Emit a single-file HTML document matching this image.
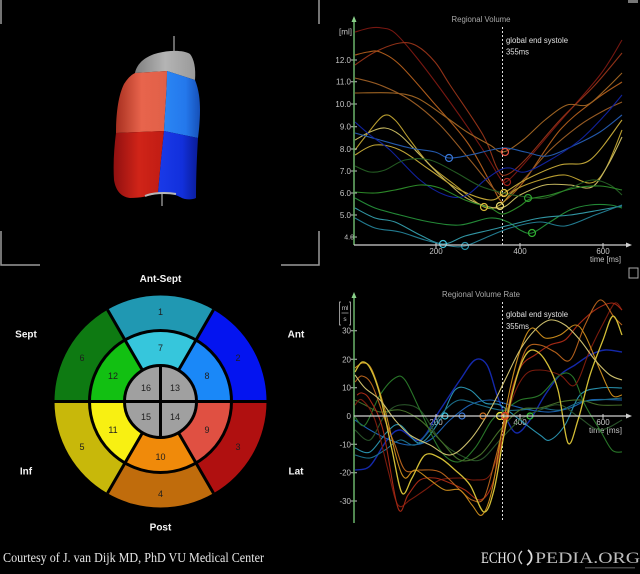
<!DOCTYPE html>
<html><head><meta charset="utf-8">
<style>
html,body{margin:0;padding:0;background:#000;width:640px;height:574px;overflow:hidden}
svg{display:block}
.t{font-family:"Liberation Sans",sans-serif;fill:#c4c4c4;font-size:8px}
.b{font-family:"Liberation Sans",sans-serif;fill:#f4f4f4;font-size:10px;font-weight:bold}
.n{font-family:"Liberation Sans",sans-serif;fill:#1e1e1e;font-size:9px}
.c{fill:none;stroke-width:1.1;stroke-linejoin:round;opacity:0.85}
</style></head>
<body>
<svg width="640" height="574" viewBox="0 0 640 574" xmlns="http://www.w3.org/2000/svg">
<defs>
<linearGradient id="gcap" x1="0" x2="1" y1="0" y2="0"><stop offset="0" stop-color="#808080"/><stop offset="0.5" stop-color="#b4b4b4"/><stop offset="1" stop-color="#9a9a9a"/></linearGradient>
<linearGradient id="gru" x1="0" x2="1"><stop offset="0" stop-color="#a83020"/><stop offset="0.5" stop-color="#e8644c"/><stop offset="1" stop-color="#e06048"/></linearGradient>
<linearGradient id="gbu" x1="0" x2="1"><stop offset="0" stop-color="#2a86f4"/><stop offset="0.6" stop-color="#2478ec"/><stop offset="1" stop-color="#1650b8"/></linearGradient>
<linearGradient id="grl" x1="0" x2="1"><stop offset="0" stop-color="#901010"/><stop offset="0.5" stop-color="#d02418"/><stop offset="1" stop-color="#c01c14"/></linearGradient>
<linearGradient id="gbl" x1="0" x2="1"><stop offset="0" stop-color="#1a3ae8"/><stop offset="0.6" stop-color="#1230dc"/><stop offset="1" stop-color="#0a1c98"/></linearGradient>
</defs>
<rect width="640" height="574" fill="#000"/>

<!-- corner brackets -->
<path d="M1,0V24 M1,231V265H40 M281,265H319V231 M319,24V0" stroke="#9a9a9a" stroke-width="1.5" fill="none"/>
<rect x="628" y="0" width="10" height="3" fill="#777"/>
<rect x="629" y="268" width="9" height="10" fill="none" stroke="#aaa" stroke-width="1"/>

<!-- 3D heart -->
<line x1="174" y1="36" x2="174" y2="53" stroke="#d0d0d0" stroke-width="1"/>
<path d="M135,73 C137,63 146,56 158,53 C170,50 184,50 190,54 C194,59 196,68 195,80 L167,71 Z" fill="url(#gcap)"/>
<path d="M135,73 L167,71 C167,90 165,110 164,131 L116,133 C116,115 118,96 124,84 C128,78 131,75 135,73 Z" fill="url(#gru)"/>
<path d="M167,71 L195,80 C199,90 200,100 200,110 C200,120 199,130 198,138 L164,131 C165,110 167,90 167,71 Z" fill="url(#gbu)"/>
<path d="M116,133 L164,131 C162,150 160,170 158,193 C150,196 140,198 130,198 C122,197 116,192 114,180 C113,165 114,148 116,133 Z" fill="url(#grl)"/>
<path d="M164,131 L198,138 C197,155 196,175 196,198 C192,200 185,200 180,197 C172,193 165,193 158,193 C160,170 162,150 164,131 Z" fill="url(#gbl)"/>
<path d="M145,196 C152,193 165,192 176,194" stroke="#b8b8b8" stroke-width="2" fill="none"/>
<line x1="162" y1="194" x2="162" y2="206" stroke="#d0d0d0" stroke-width="1"/>

<!-- Bullseye -->
<g>
<path d="M160.5,401.5 L107.5,309.7 A106,106 0 0 1 213.5,309.7 Z" fill="#2098b2"/>
<path d="M160.5,401.5 L213.5,309.7 A106,106 0 0 1 266.5,401.5 Z" fill="#0414f0"/>
<path d="M160.5,401.5 L266.5,401.5 A106,106 0 0 1 213.5,493.3 Z" fill="#b01010"/>
<path d="M160.5,401.5 L213.5,493.3 A106,106 0 0 1 107.5,493.3 Z" fill="#c06c0c"/>
<path d="M160.5,401.5 L107.5,493.3 A106,106 0 0 1 54.5,401.5 Z" fill="#c8b80a"/>
<path d="M160.5,401.5 L54.5,401.5 A106,106 0 0 1 107.5,309.7 Z" fill="#0e7a12"/>
<path d="M160.5,401.5 L125,340 A71,71 0 0 1 196,340 Z" fill="#36c6dc"/>
<path d="M160.5,401.5 L196,340 A71,71 0 0 1 231.5,401.5 Z" fill="#1a88f8"/>
<path d="M160.5,401.5 L231.5,401.5 A71,71 0 0 1 196,463 Z" fill="#e05042"/>
<path d="M160.5,401.5 L196,463 A71,71 0 0 1 125,463 Z" fill="#f08a0a"/>
<path d="M160.5,401.5 L125,463 A71,71 0 0 1 89.5,401.5 Z" fill="#f8f012"/>
<path d="M160.5,401.5 L89.5,401.5 A71,71 0 0 1 125,340 Z" fill="#12c012"/>
<circle cx="160.5" cy="401.5" r="36" fill="#a0a0a0"/>
<g stroke="#000" stroke-width="3" fill="none">
<circle cx="160.5" cy="401.5" r="71"/>
<circle cx="160.5" cy="401.5" r="36"/>
<path d="M142.5,370.3 L107.5,309.7 M178.5,370.3 L213.5,309.7 M196.5,401.5 L266.5,401.5 M178.5,432.7 L213.5,493.3 M142.5,432.7 L107.5,493.3 M124.5,401.5 L54.5,401.5 M160.5,365.5 L160.5,437.5 M124.5,401.5 L196.5,401.5"/>
</g>
<g class="n" text-anchor="middle">
<text x="160.5" y="315">1</text>
<text x="238" y="361">2</text>
<text x="238" y="450">3</text>
<text x="160.5" y="497">4</text>
<text x="82" y="450">5</text>
<text x="82" y="361">6</text>
<text x="160.5" y="351">7</text>
<text x="207" y="379">8</text>
<text x="207" y="433">9</text>
<text x="160.5" y="460">10</text>
<text x="113" y="433">11</text>
<text x="113" y="379">12</text>
<text x="175" y="391">13</text>
<text x="175" y="420">14</text>
<text x="146" y="420">15</text>
<text x="146" y="391">16</text>
</g>
<g class="b" text-anchor="middle">
<text x="160.5" y="282">Ant-Sept</text>
<text x="26" y="337.5">Sept</text>
<text x="296" y="337.5">Ant</text>
<text x="26" y="474.5">Inf</text>
<text x="296" y="474.5">Lat</text>
<text x="160.5" y="530.5">Post</text>
</g>
</g>

<!-- Top chart: Regional Volume -->
<g>
<text class="t" x="481" y="22" text-anchor="middle" textLength="59" lengthAdjust="spacingAndGlyphs" style="fill:#a8a8a8">Regional Volume</text>
<line x1="502.5" y1="27" x2="502.5" y2="245" stroke="#e0e0e0" stroke-width="1" stroke-dasharray="2,2"/>
<text class="t" x="506" y="43" textLength="62" lengthAdjust="spacingAndGlyphs" style="fill:#e0e0e0">global end systole</text>
<text class="t" x="506" y="54.5" textLength="23" lengthAdjust="spacingAndGlyphs" style="fill:#e0e0e0">355ms</text>
<text class="t" x="339" y="34.5" textLength="13" lengthAdjust="spacingAndGlyphs">[ml]</text>
<g class="t" text-anchor="end">
<text x="351" y="63">12.0</text>
<text x="351" y="84.7">11.0</text>
<text x="351" y="107">10.0</text>
<text x="351" y="129.7">9.0</text>
<text x="351" y="152">8.0</text>
<text x="351" y="174">7.0</text>
<text x="351" y="196">6.0</text>
<text x="351" y="218">5.0</text>
<text x="354" y="239.5" style="font-size:7px">4.0</text>
</g>
<g class="t" text-anchor="middle">
<text x="436" y="254">200</text>
<text x="520" y="254">400</text>
<text x="603" y="254">600</text>
</g>
<text class="t" x="590" y="262" textLength="31" lengthAdjust="spacingAndGlyphs">time [ms]</text>

<g class="c">
<polyline stroke="#8c1c14" points="355,32 370,28 382,28 395,33 417,58 450,102 483,150 500,178 506,182 523,165 557,125 600,75 622,40"/>
<polyline stroke="#a83a1c" points="355,65 375,52 400,43 417,46 435,62 450,85 483,135 497,168 506,175 525,160 560,120 595,85 622,53"/>
<polyline stroke="#c86a20" points="355,55 368,52 380,52 400,65 433,102 467,142 490,182 500,200 506,200 525,180 560,130 595,100 622,82"/>
<polyline stroke="#b87428" points="355,93 393,93 417,98 443,115 467,132 490,145 503,152 523,140 545,120 567,105 587,105 605,90 622,73"/>
<polyline stroke="#b06a2a" points="355,78 380,85 410,100 440,125 470,160 495,190 506,195 525,178 550,150 580,125 605,110 622,102"/>
<polyline stroke="#d8b838" points="355,150 365,137 383,116 395,120 410,140 430,165 455,185 484,207 500,205 515,190 540,180 565,175 590,183 605,170 622,130"/>
<polyline stroke="#e8d870" points="355,140 370,132 385,128 400,135 420,155 445,180 470,200 500,208 520,195 545,185 570,185 592,187 608,165 622,137"/>
<polyline stroke="#e0c040" points="355,155 375,145 400,150 430,170 460,190 490,200 504,193 525,180 560,165 590,160 622,120"/>
<polyline stroke="#2a68c8" points="355,133 380,140 410,148 435,152 449,158 470,155 503,148 525,152 548,156 575,145 600,132 622,115"/>
<polyline stroke="#1428b8" points="355,122 370,135 390,150 420,180 445,195 465,196 485,180 500,170 510,168 525,172 550,160 580,140 605,115 622,95"/>
<polyline stroke="#2a6a28" points="355,166 370,172 385,170 405,160 430,160 455,172 480,186 503,193 520,196 545,198 570,188 592,180 610,185 622,195"/>
<polyline stroke="#34a030" points="355,192 375,193 395,190 420,185 440,188 465,200 490,208 503,214 520,206 530,199 550,195 575,188 600,186 622,190"/>
<polyline stroke="#2aa040" points="355,198 375,208 400,215 430,222 460,225 490,218 508,222 520,230 532,233 550,222 570,210 590,205 610,205 622,208"/>
<polyline stroke="#3ab0c0" points="355,208 375,218 395,222 420,235 443,244 465,236 490,230 510,225 540,218 570,215 600,210 622,206"/>
<polyline stroke="#2890a8" points="355,218 375,228 400,232 425,240 450,246 465,246 485,238 510,228 540,222 565,226 595,215 622,205"/>
</g>
<g fill="none" stroke-width="1.2">
<circle cx="449" cy="158" r="3.5" stroke="#3a78d8"/>
<circle cx="443" cy="244" r="3.5" stroke="#40c0d8"/>
<circle cx="465" cy="246" r="3.5" stroke="#2890a8"/>
<circle cx="484" cy="207" r="3.5" stroke="#d8b838"/>
<circle cx="500" cy="206" r="3.5" stroke="#e8d870"/>
<circle cx="504" cy="193" r="3.5" stroke="#e0c040"/>
<circle cx="505" cy="152" r="3.5" stroke="#e05040"/>
<circle cx="507" cy="182" r="3.5" stroke="#a02018"/>
<circle cx="528" cy="198" r="3.5" stroke="#30a030"/>
<circle cx="532" cy="233" r="3.5" stroke="#30b030"/>
</g>
<!-- axes -->
<path d="M351,60H357 M351,81.7H357 M351,104H357 M351,126.7H357 M351,149H357 M351,171H357 M351,193H357 M351,215H357 M351,237H357" stroke="#c0c0c0" stroke-width="1"/>
<path d="M436,243V248 M520,243V248 M603,243V248" stroke="#d0d0d0" stroke-width="1"/>
<line x1="354" y1="19" x2="354" y2="245" stroke="#6ab46a" stroke-width="1.5"/>
<path d="M354,16 L351.5,22 L356.5,22 Z" fill="#8ad08a"/>
<line x1="354" y1="245" x2="628" y2="245" stroke="#d0d0d0" stroke-width="1.3"/>
<path d="M632,245 L626,242.5 L626,247.5 Z" fill="#d0d0d0"/>
</g>

<!-- Bottom chart: Regional Volume Rate -->
<g>
<text class="t" x="481" y="297" text-anchor="middle" textLength="78" lengthAdjust="spacingAndGlyphs" style="fill:#a8a8a8">Regional Volume Rate</text>
<line x1="502.5" y1="302" x2="502.5" y2="521" stroke="#e0e0e0" stroke-width="1" stroke-dasharray="2,2"/>
<text class="t" x="506" y="317" textLength="62" lengthAdjust="spacingAndGlyphs" style="fill:#e0e0e0">global end systole</text>
<text class="t" x="506" y="329" textLength="23" lengthAdjust="spacingAndGlyphs" style="fill:#e0e0e0">355ms</text>
<path d="M341,302 H339.5 V325 H341 M349,302 H350.5 V325 H349" stroke="#bbb" stroke-width="0.8" fill="none"/>
<text class="t" x="345" y="310" text-anchor="middle" style="font-size:6.5px">ml</text>
<line x1="341.5" y1="313" x2="348.5" y2="313" stroke="#bbb" stroke-width="0.7"/>
<text class="t" x="345" y="321" text-anchor="middle" style="font-size:6.5px">s</text>
<g class="t" text-anchor="end">
<text x="351" y="333.7">30</text>
<text x="351" y="362.3">20</text>
<text x="351" y="390.7">10</text>
<text x="351" y="419">0</text>
<text x="351" y="447.3">-10</text>
<text x="351" y="475.7">-20</text>
<text x="351" y="504">-30</text>
</g>
<g class="t" text-anchor="middle">
<text x="436" y="425">200</text>
<text x="520" y="425">400</text>
<text x="603" y="425">600</text>
</g>
<text class="t" x="589" y="433" textLength="33" lengthAdjust="spacingAndGlyphs">time [ms]</text>

<g class="c">
<polyline stroke="#1830c8" stroke-width="1.4" points="355,470 370,466 387,440 400,430 420,440 440,410 460,380 475,360 487,365 497,395 507,420 517,433 530,420 545,395 560,375 575,365 590,355 605,350 622,352"/>
<polyline stroke="#2070d0" points="355,420 370,430 390,440 410,445 430,440 450,420 470,405 490,400 510,405 530,410 550,412 570,408 590,400 622,400"/>
<polyline stroke="#30a8c8" points="355,448 370,452 387,432 400,425 420,443 440,420 455,390 470,390 485,403 500,405 520,420 540,435 550,440 565,425 580,395 600,388 622,388"/>
<polyline stroke="#2080a0" points="355,455 370,458 385,450 400,440 415,445 430,430 445,410 460,400 480,405 500,410 520,410 540,408 560,410 580,402 600,400 622,398"/>
<polyline stroke="#306030" points="355,430 370,440 385,415 400,405 420,410 440,440 460,455 480,460 500,440 520,420 540,410 560,405 580,418 600,430 622,420"/>
<polyline stroke="#308a30" points="355,417 365,425 380,395 395,378 405,380 420,410 440,450 458,462 475,448 492,420 505,410 520,400 540,395 560,375 573,377 585,405 600,430 612,450 622,452"/>
<polyline stroke="#508030" points="355,400 365,405 380,412 400,410 420,420 440,440 460,460 480,455 500,430 520,410 540,408 560,402 580,400 600,405 622,405"/>
<polyline stroke="#902010" points="355,405 362,400 375,420 388,470 398,505 410,500 425,490 440,480 460,478 475,480 490,475 502,440 512,400 525,375 540,370 560,375 575,385 590,350 605,320 615,303 622,310"/>
<polyline stroke="#c03018" points="357,395 362,393 370,400 383,430 398,508 408,495 420,480 435,478 450,483 465,490 480,500 492,485 502,440 512,390 522,365 535,355 550,345 565,340 578,325 595,310 612,303 622,310"/>
<polyline stroke="#d07020" points="355,382 362,376 372,385 385,420 395,445 405,470 420,470 440,472 460,490 472,500 484,498 495,460 505,420 517,375 527,348 540,345 555,352 570,360 585,325 600,300 614,317 622,325"/>
<polyline stroke="#e8a020" points="355,368 363,363 372,370 385,410 397,460 405,478 415,470 430,480 445,490 460,490 472,505 482,515 492,490 502,430 512,380 522,345 532,328 545,338 560,335 575,325 585,335 600,370 612,395 622,395"/>
<polyline stroke="#f8e040" stroke-width="1.3" points="355,372 362,362 370,368 380,395 392,450 402,493 412,478 425,455 440,458 455,470 470,485 484,512 494,490 503,440 512,395 522,362 532,350 545,360 558,390 568,443 578,420 590,375 603,340 613,316 622,335"/>
<polyline stroke="#f0e080" points="355,375 365,388 380,400 395,420 410,435 430,445 450,455 470,440 490,410 505,380 520,350 535,330 550,320 565,325 580,340 595,360 610,375 622,380"/>
</g>
<g fill="none" stroke-width="1.2">
<circle cx="445" cy="416" r="3" stroke="#40c0d8"/>
<circle cx="462" cy="416" r="3" stroke="#3a78d8"/>
<circle cx="483" cy="416" r="3" stroke="#d07020"/>
<circle cx="500" cy="416" r="3.5" stroke="#f0e040"/>
<circle cx="505" cy="416" r="3.5" stroke="#e04020"/>
<circle cx="530" cy="416" r="3" stroke="#30c030"/>
</g>
<path d="M351,330.7H357 M351,359.3H357 M351,387.7H357 M351,444.3H357 M351,472.7H357 M351,501H357" stroke="#c0c0c0" stroke-width="1"/>
<path d="M436,414V419 M520,414V419 M603,414V419" stroke="#d0d0d0" stroke-width="1"/>
<line x1="354" y1="295" x2="354" y2="523" stroke="#6ab46a" stroke-width="1.5"/>
<path d="M354,292 L351.5,298 L356.5,298 Z" fill="#8ad08a"/>
<line x1="354" y1="416" x2="628" y2="416" stroke="#d0d0d0" stroke-width="1.3"/>
<path d="M632,416 L626,413.5 L626,418.5 Z" fill="#d0d0d0"/>
</g>

<!-- footer -->
<text x="3" y="562" font-family="Liberation Serif, serif" font-size="14" fill="#e6e6e6" textLength="261" lengthAdjust="spacingAndGlyphs">Courtesy of J. van Dijk MD, PhD VU Medical Center</text>
<text x="481" y="563" font-family="Liberation Serif, serif" font-size="16" fill="#e8e8e8" textLength="35" lengthAdjust="spacingAndGlyphs">ECHO</text>
<path d="M522,551 C518,555 518,560 522,564" stroke="#cfcfcf" stroke-width="1.3" fill="none"/>
<path d="M528,550 C533,554 533,561 527,565" stroke="#e0e0e0" stroke-width="1.8" fill="none"/>
<text x="535" y="563" font-family="Liberation Serif, serif" font-size="16" fill="#bdbdbd" textLength="105" lengthAdjust="spacingAndGlyphs">PEDIA.ORG</text>
<rect x="585" y="567" width="50" height="1.5" fill="#444"/>
</svg>
<script>
(function(){
  var NS="http://www.w3.org/2000/svg";
  var pls=document.querySelectorAll("g.c polyline");
  for(var i=0;i<pls.length;i++){
    var pl=pls[i];
    var nums=pl.getAttribute("points").trim().split(/[\s,]+/).map(Number);
    var p=[];for(var k=0;k+1<nums.length;k+=2)p.push([nums[k],nums[k+1]]);
    if(p.length<3)continue;
    var d="M"+p[0][0]+","+p[0][1];
    for(var j=0;j<p.length-1;j++){
      var p0=p[j>0?j-1:j],p1=p[j],p2=p[j+1],p3=p[j+2<p.length?j+2:j+1];
      var c1x=p1[0]+(p2[0]-p0[0])/6,c1y=p1[1]+(p2[1]-p0[1])/6;
      var c2x=p2[0]-(p3[0]-p1[0])/6,c2y=p2[1]-(p3[1]-p1[1])/6;
      d+=" C"+c1x.toFixed(1)+","+c1y.toFixed(1)+" "+c2x.toFixed(1)+","+c2y.toFixed(1)+" "+p2[0]+","+p2[1];
    }
    var path=document.createElementNS(NS,"path");
    path.setAttribute("d",d);
    path.setAttribute("stroke",pl.getAttribute("stroke"));
    if(pl.getAttribute("stroke-width"))path.setAttribute("stroke-width",pl.getAttribute("stroke-width"));
    pl.parentNode.replaceChild(path,pl);
  }
})();
</script>
</body></html>
